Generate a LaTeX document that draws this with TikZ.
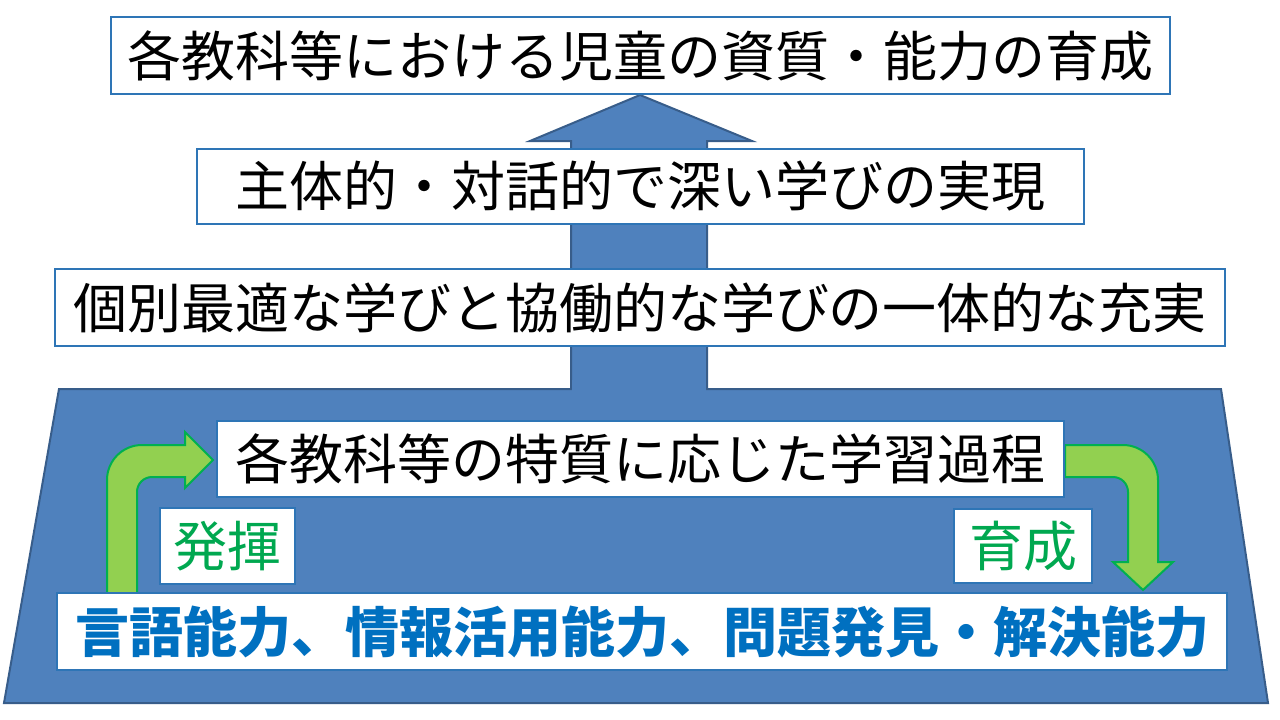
\documentclass[tikz,border=0pt]{standalone}
\usepackage{fontspec}
\setmainfont{Noto Sans CJK JP}
\definecolor{trapfill}{HTML}{4F81BD}
\definecolor{trapdraw}{HTML}{385D8A}
\definecolor{boxblue}{HTML}{2E75B6}
\definecolor{arrfill}{HTML}{92D050}
\definecolor{arrdraw}{HTML}{00B050}
\definecolor{labgreen}{HTML}{00A850}
\definecolor{txtblue}{HTML}{0070C0}
\begin{document}
\begin{tikzpicture}[x=1pt,y=-1pt,
  box/.style={draw=boxblue,line width=2pt,fill=white,inner sep=0pt,
    font=\fontsize{54}{60}\selectfont,align=center},
  greenarrow/.style={fill=arrfill,draw=arrdraw,line width=2pt,line join=miter},
  bluearrow/.style={fill=trapfill,draw=trapdraw,line width=2pt}]
\useasboundingbox (0,0) rectangle (1280,720);
\fill[white] (0,0) rectangle (1280,720);
% trapezoid base
\draw[bluearrow] (59,389) -- (1221,389) -- (1268,703) -- (4,703) -- cycle;
% big arrow
\draw[bluearrow] (571,389) -- (571,141) -- (530,141) -- (640,95) -- (752,141) -- (707,141) -- (707,389);
\fill[trapfill] (572,380) rectangle (706,392);
% green arrows
\draw[greenarrow] (107,593) -- (107,480) arc[start angle=180,end angle=270,radius=35] -- (185,445) -- (185,432) -- (213,460) -- (185,488) -- (185,477) -- (152,477) arc[start angle=270,end angle=180,radius=15] -- (137,593) -- cycle;
\draw[greenarrow] (1065,445) -- (1123,445) arc[start angle=270,end angle=360,radius=35] -- (1158,562) -- (1173,562) -- (1143,590) -- (1113,562) -- (1128,562) -- (1128,492) arc[start angle=0,end angle=-90,radius=15] -- (1065,477) -- cycle;
% boxes
\node[box,minimum width=1059,minimum height=77] (top) at (640.5,55.5) {各教科等における児童の資質・能力の育成};
\node[box,minimum width=887,minimum height=75] (jitsu) at (640.5,186.5) {主体的・対話的で深い学びの実現};
\node[box,minimum width=1170,minimum height=77] (juji) at (640,307.5) {個別最適な学びと協働的な学びの一体的な充実};
\node[box,minimum width=847,minimum height=76] (kate) at (640.5,459) {各教科等の特質に応じた学習過程};
\node[box,minimum width=1170,minimum height=77,text=txtblue,font=\fontsize{54}{60}\selectfont\bfseries] (noryoku) at (642,631.5) {言語能力、情報活用能力、問題発見・解決能力};
\node[box,minimum width=135,minimum height=76,text=labgreen] (hakki) at (227.5,546) {発揮};
\node[box,minimum width=138,minimum height=74,text=labgreen] (ikusei) at (1023,546) {育成};
\end{tikzpicture}
\end{document}
